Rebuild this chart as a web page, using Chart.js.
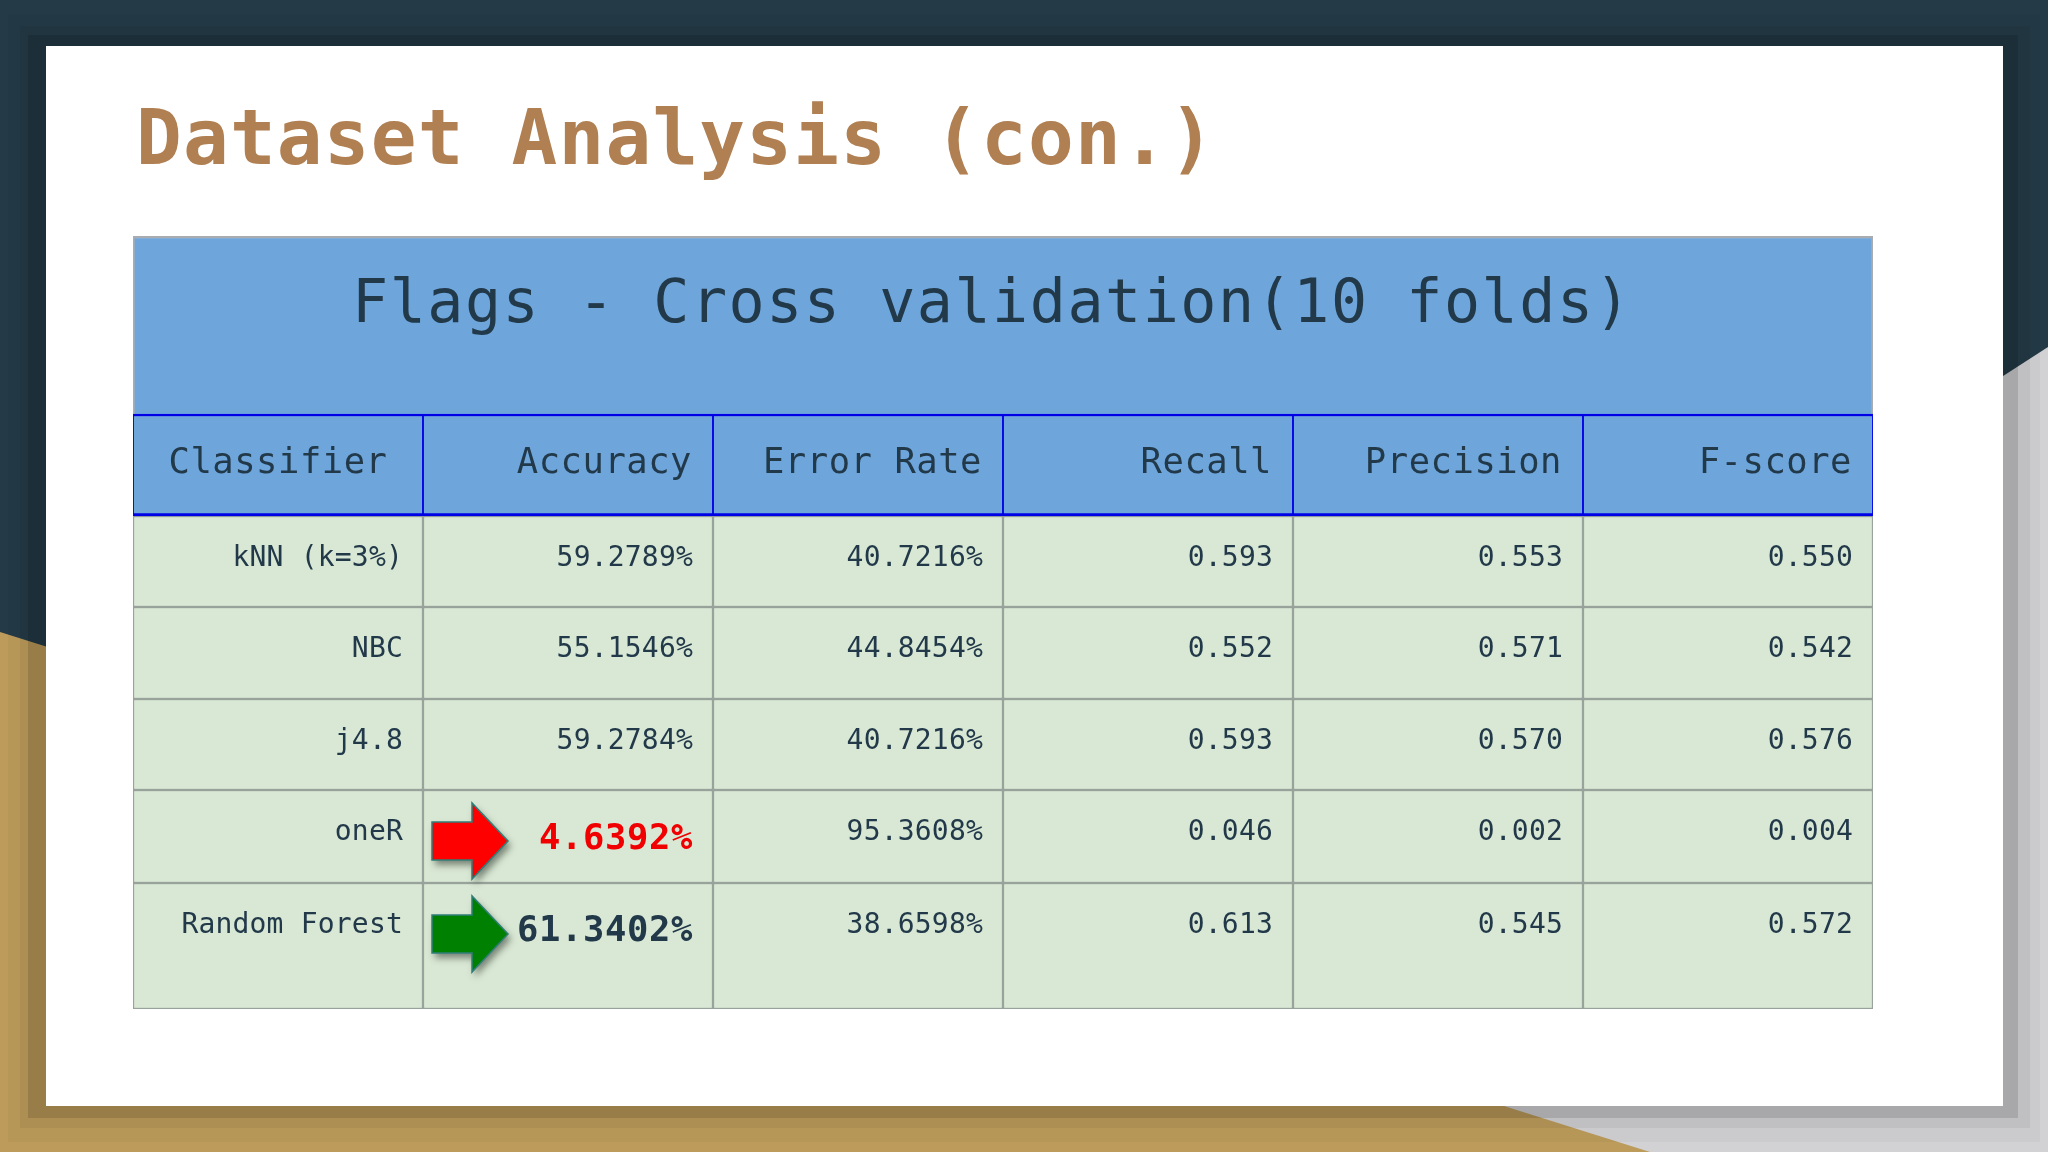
<!DOCTYPE html>
<html>
<head>
<meta charset="utf-8">
<title>Dataset Analysis (con.)</title>
<script src="https://cdn.jsdelivr.net/npm/chart.js@4"></script>
<style>
  html, body { margin: 0; padding: 0; background: #243a47; }
  canvas { display: block; }
</style>
</head>
<body>
<canvas id="grafico" width="2048" height="1152"></canvas>
<script>
// dados da tabela
const slideTitle = 'Dataset Analysis (con.)';
const tableTitle = 'Flags - Cross validation(10 folds)';
const columns = ['Classifier', 'Accuracy', 'Error Rate', 'Recall', 'Precision', 'F-score'];
const classifiers = ['kNN (k=3%)', 'NBC', 'j4.8', 'oneR', 'Random Forest'];
const accuracy = [59.2789, 55.1546, 59.2784, 4.6392, 61.3402];
const errorRate = [40.7216, 44.8454, 40.7216, 95.3608, 38.6598];
const recall = [0.593, 0.552, 0.593, 0.046, 0.613];
const precision = [0.553, 0.571, 0.570, 0.002, 0.545];
const fScore = [0.550, 0.542, 0.576, 0.004, 0.572];

// alturas das linhas (titulo, cabecalho, dados)
const rowHeights = [178, 102, 91, 92, 91, 93, 126];

const MONO = '"DejaVu Sans Mono", monospace';
const INK = '#22394a';
const BLUE_FILL = '#6ea6dc';
const GREEN_FILL = '#d9e8d4';
const GRID = '#98a39b';
const HEADER_LINE = '#0000e6';

function rowSpan(i) {
    const top = rowHeights.slice(0, i).reduce((a, b) => a + b, 0);
    return [top, top + rowHeights[i]];
}

function rowCells(i) {
    return columns.map(() => rowSpan(i));
}

const datasets = [];
// cabecalho primeiro: fica por cima das outras linhas
datasets.push({
    data: rowCells(1),
    backgroundColor: BLUE_FILL,
    borderColor: HEADER_LINE,
    borderWidth: { top: 2.5, bottom: 3, left: 1.25, right: 1.25 },
    borderSkipped: false
});
for (let i = 0; i < classifiers.length; i++) {
    datasets.push({
        data: rowCells(i + 2),
        backgroundColor: GREEN_FILL,
        borderColor: GRID,
        borderWidth: 1.5,
        borderSkipped: false
    });
}
datasets.push({
    data: rowCells(0),
    backgroundColor: BLUE_FILL,
    borderColor: '#a9adb2',
    borderSkipped: false,
    borderWidth: ctx => ({
        top: 2.5,
        bottom: 0,
        left: ctx.dataIndex === 0 ? 2 : 0,
        right: ctx.dataIndex === columns.length - 1 ? 2 : 0
    })
});

function putText(ctx, text, x, y, align, font, color, charWidth) {
    ctx.save();
    ctx.font = font;
    ctx.fillStyle = color;
    ctx.textAlign = align;
    ctx.textBaseline = 'alphabetic';
    ctx.letterSpacing = (charWidth - ctx.measureText('0').width).toFixed(2) + 'px';
    ctx.fillText(text, x, y);
    ctx.restore();
}

function drawArrow(ctx, x, yMid, fill) {
    ctx.save();
    ctx.shadowColor = 'rgba(40, 50, 40, 0.55)';
    ctx.shadowBlur = 7;
    ctx.shadowOffsetX = 3;
    ctx.shadowOffsetY = 5;
    ctx.beginPath();
    ctx.moveTo(x, yMid - 19);
    ctx.lineTo(x + 40, yMid - 19);
    ctx.lineTo(x + 40, yMid - 38);
    ctx.lineTo(x + 76, yMid);
    ctx.lineTo(x + 40, yMid + 38);
    ctx.lineTo(x + 40, yMid + 19);
    ctx.lineTo(x, yMid + 19);
    ctx.closePath();
    ctx.fillStyle = fill;
    ctx.strokeStyle = '#2f7f78';
    ctx.lineWidth = 1.5;
    ctx.fill();
    ctx.shadowColor = 'transparent';
    ctx.stroke();
    ctx.restore();
}

// fundo do slide: azul escuro, cinza, dourado e as faixas de sombra
const slideBackground = {
    id: 'slideBackground',
    beforeDraw(chart) {
        const ctx = chart.ctx;
        ctx.save();
        ctx.fillStyle = '#243a47';
        ctx.fillRect(0, 0, 2048, 1152);
        ctx.fillStyle = '#d2d1d3';
        ctx.beginPath();
        ctx.moveTo(2048, 347);
        ctx.lineTo(1300, 830);
        ctx.lineTo(1300, 1152);
        ctx.lineTo(2048, 1152);
        ctx.closePath();
        ctx.fill();
        ctx.fillStyle = '#bd9c5b';
        ctx.beginPath();
        ctx.moveTo(0, 632);
        ctx.lineTo(1650, 1152);
        ctx.lineTo(0, 1152);
        ctx.closePath();
        ctx.fill();
        // sombra em faixas, cada vez mais escura perto do slide
        const bands = [[8, 14, 2032, 1128], [20, 26, 2010, 1102], [28, 35, 1990, 1083]];
        const alphas = [0.03, 0.05, 0.12];
        bands.forEach((b, i) => {
            ctx.fillStyle = 'rgba(0, 0, 0, ' + alphas[i] + ')';
            ctx.fillRect(b[0], b[1], b[2], b[3]);
        });
        ctx.fillStyle = '#ffffff';
        ctx.fillRect(46, 46, 1957, 1060);
        ctx.restore();
    }
};

// textos e setas, posicionados pelas escalas
const tableText = {
    id: 'tableText',
    afterDatasetsDraw(chart) {
        const ctx = chart.ctx;
        const xs = chart.scales.x;
        const ys = chart.scales.y;
        const colLeft = i => xs.getPixelForValue(i) - xs.getPixelForValue(0) + xs.left;
        const colRight = i => colLeft(i) + (xs.right - xs.left) / columns.length;
        const rowTop = i => ys.getPixelForValue(rowSpan(i)[0]);
        const cellFont = '28px ' + MONO;
        const headFont = '35.5px ' + MONO;
        const boldFont = 'bold 35.5px ' + MONO;

        putText(ctx, slideTitle, 136, 164, 'left', 'bold 76px ' + MONO, '#b07f52', 46.95);
        putText(ctx, tableTitle, 352, rowTop(0) + 86, 'left', '60px ' + MONO, INK, 37.65);

        columns.forEach((name, c) => {
            if (c === 0) {
                putText(ctx, name, (colLeft(c) + colRight(c)) / 2, rowTop(1) + 59, 'center', headFont, INK, 21.9);
            } else {
                putText(ctx, name, colRight(c) - 21, rowTop(1) + 59, 'right', headFont, INK, 21.9);
            }
        });

        classifiers.forEach((name, r) => {
            const base = rowTop(r + 2) + 50;
            const cells = [
                name,
                accuracy[r].toFixed(4) + '%',
                errorRate[r].toFixed(4) + '%',
                recall[r].toFixed(3),
                precision[r].toFixed(3),
                fScore[r].toFixed(3)
            ];
            cells.forEach((text, c) => {
                if (c === 1 && name === 'oneR') {
                    putText(ctx, text, colRight(c) - 20, base + 8.5, 'right', boldFont, '#f00000', 22);
                } else if (c === 1 && name === 'Random Forest') {
                    putText(ctx, text, colRight(c) - 20, base + 8, 'right', boldFont, INK, 22);
                } else {
                    putText(ctx, text, colRight(c) - 20, base, 'right', cellFont, INK, 17.05);
                }
            });
        });

        drawArrow(ctx, colLeft(1) + 9, rowTop(5) + 51, '#ff0000');
        drawArrow(ctx, colLeft(1) + 9, rowTop(6) + 51, '#008000');
    }
};

new Chart(document.getElementById('grafico'), {
    type: 'bar',
    data: { labels: columns, datasets: datasets },
    plugins: [slideBackground, tableText],
    options: {
        responsive: false,
        animation: false,
        layout: { padding: { left: 133, right: 175, top: 236, bottom: 143 } },
        plugins: { legend: { display: false }, tooltip: { enabled: false } },
        datasets: { bar: { grouped: false, barPercentage: 1, categoryPercentage: 1 } },
        scales: {
            x: { display: false },
            y: {
                display: false,
                reverse: true,
                min: 0,
                max: rowHeights.reduce((a, b) => a + b, 0)
            }
        }
    }
});
</script>
</body>
</html>
